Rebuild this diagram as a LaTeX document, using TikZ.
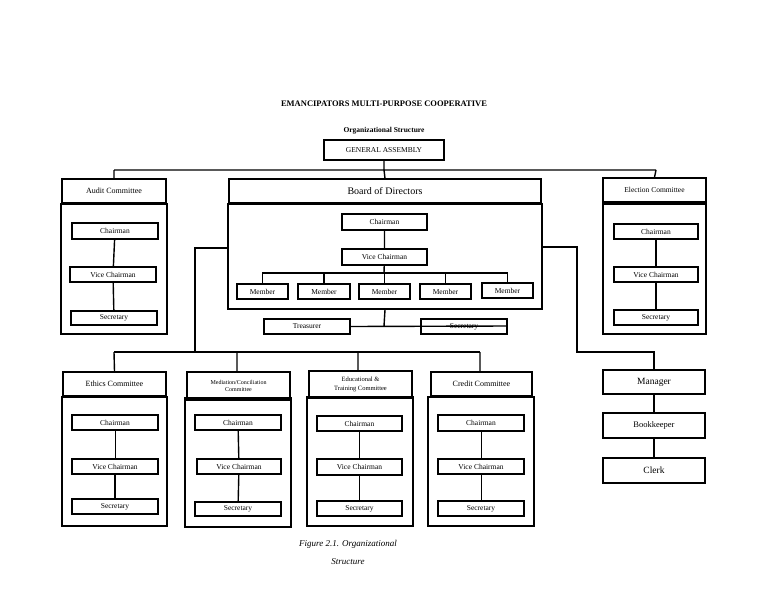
\documentclass[tikz,border=0pt]{standalone}
\usepackage{fontspec}
\setmainfont{Liberation Serif}
\begin{document}
\begin{tikzpicture}[x=1pt,y=-1pt,
  bx/.style={draw,line width=1.4pt,inner sep=0pt,align=center},
  ln/.style={line width=1.4pt},
  tl/.style={line width=0.6pt}]
\useasboundingbox (0,0) rectangle (768,594);
\newcommand\bx[7][]{\pgfmathsetmacro\cx{(#3+#5)/2}\pgfmathsetmacro\cy{(#4+#6)/2}%
  \pgfmathsetmacro\w{#5-#3}\pgfmathsetmacro\h{#6-#4}%
  \node[bx,minimum width=\w pt,minimum height=\h pt,font=\fontsize{7.5}{8.5}\selectfont,#1] (#2) at (\cx,\cy) {#7};}
\node[font=\bfseries\fontsize{8.5}{10}\selectfont] (title) at (384,104) {EMANCIPATORS MULTI-PURPOSE COOPERATIVE};
\node[font=\bfseries\fontsize{7.5}{9}\selectfont] (sub) at (384,131) {Organizational Structure};
\bx{ga}{324}{140}{444}{160}{GENERAL ASSEMBLY}
\bx[font=\fontsize{10}{12}\selectfont]{bod}{229}{179}{541}{203}{Board of Directors}
\bx[font=\fontsize{8}{9}\selectfont]{aud}{62}{179}{166}{203}{Audit Committee}
\bx{ele}{603}{178}{706}{202}{Election Committee}
\coordinate (busL) at (114,170); \coordinate (busR) at (656,170); \coordinate (busM) at (384,170);
\draw[ln] (ga.south) -- (busM) (busL) -- (busR) (busL) -- (aud.north) (busR) -- (ele.north) (busM) -- (bod.north);
% audit
\bx{audb}{61}{204}{167}{334}{}
\bx{ac}{72}{223}{158}{239}{Chairman}
\bx{av}{70}{267}{156}{282}{Vice Chairman}
\bx{as}{71}{311}{157}{325}{Secretary}
\draw[ln] (ac) -- (av) -- (as);
% election
\bx{eleb}{603}{204}{706}{334}{}
\bx{ec}{614}{224}{698}{239}{Chairman}
\bx{ev}{614}{267}{698}{282}{Vice Chairman}
\bx{es}{614}{310}{698}{325}{Secretary}
\draw[ln] (ec) -- (ev) -- (es);
% board
\bx{bodb}{228}{204}{542}{309}{}
\bx{bc}{342}{214}{427}{230}{Chairman}
\bx{bv}{342}{249}{427}{265}{Vice Chairman}
\bx{m1}{237}{284}{288}{299}{Member}
\bx{m2}{298}{284}{350}{299}{Member}
\bx{m3}{359}{284}{410}{299}{Member}
\bx{m4}{420}{284}{471}{299}{Member}
\bx{m5}{482}{283}{533}{298}{Member}
\coordinate (mb) at (384,273);
\draw[ln] (bc) -- (bv) -- (mb);
\draw[ln] (m1.north) |- (mb) -| (m5.north);
\draw[ln] (m2.north) -- ++(0,-11) (m4.north) -- ++(0,-11) (m3.north) -- ++(0,-11);
\bx{tr}{264}{319}{350}{334}{Treasurer}
\bx{bs}{421}{319}{507}{334}{Secretary}
\coordinate (tj) at (384,326);
\draw[ln] (bodb.south) -- (tj) (tr.east) -- (bs.east |- tj) ;
\draw[ln] (tr.east) -- (bs.west);
% lower left bus
\coordinate (lb) at (195,352);
\draw[ln] (bodb.west |- 0,248) -| (lb);
\draw[ln] (114,352) -- (480,352);
% committees
\bx[font=\fontsize{8}{9}\selectfont]{eth}{63}{372}{166}{396}{Ethics Committee}
\bx[font=\fontsize{6}{7.5}\selectfont]{med}{187}{372}{290}{400}{Mediation/Conciliation\\Committee}
\bx[font=\fontsize{6.5}{9}\selectfont]{edu}{309}{371}{412}{398}{Educational \&\\Training Committee}
\bx[font=\fontsize{8}{9}\selectfont]{cre}{431}{372}{532}{396}{Credit Committee}
\draw[ln] (114,352) -- (eth.north) (237,352) -- (237,372) (358,352) -- (358,371) (480,352) -- (480,372);
\bx{ethb}{62}{397}{167}{526}{}
\bx{ec1}{72}{415}{158}{430}{Chairman}
\bx{ev1}{72}{459}{158}{474}{Vice Chairman}
\bx{es1}{72}{499}{158}{514}{Secretary}
\draw[tl] (ec1) -- (ev1); \draw[ln] (ev1) -- (es1);
\bx{medb}{185}{398}{291}{527}{}
\bx{mc1}{195}{415}{281}{430}{Chairman}
\bx{mv1}{197}{459}{281}{474}{Vice Chairman}
\bx{ms1}{195}{502}{281}{516}{Secretary}
\draw[ln] (mc1) -- (mv1) -- (ms1);
\bx{edub}{307}{397}{413}{526}{}
\bx{dc1}{317}{416}{402}{431}{Chairman}
\bx{dv1}{317}{459}{402}{475}{Vice Chairman}
\bx{ds1}{317}{501}{402}{516}{Secretary}
\draw[tl] (dc1) -- (dv1); \draw[ln] (dv1) -- (ds1);
\bx{creb}{428}{397}{534}{526}{}
\bx{cc1}{438}{415}{524}{431}{Chairman}
\bx{cv1}{438}{459}{524}{474}{Vice Chairman}
\bx{cs1}{438}{501}{524}{516}{Secretary}
\draw[tl] (cc1) -- (cv1) -- (cs1);
% management
\bx[font=\fontsize{9.5}{11}\selectfont]{man}{603}{370}{705}{394}{Manager}
\bx[font=\fontsize{8.5}{10}\selectfont]{bk}{603}{413}{705}{438}{Bookkeeper}
\bx[font=\fontsize{9.5}{11}\selectfont]{clk}{603}{458}{705}{483}{Clerk}
\coordinate (rb) at (577,352);
\draw[ln] (bodb.east |- 0,247) -| (rb) -| (man.north);
\draw[ln] (man) -- (bk) -- (clk);
\node[font=\itshape\fontsize{9}{11}\selectfont] (cap1) at (348,544) {Figure 2.1. Organizational};
\node[font=\itshape\fontsize{9}{11}\selectfont] (cap2) at (348,562) {Structure};
\end{tikzpicture}
\end{document}
